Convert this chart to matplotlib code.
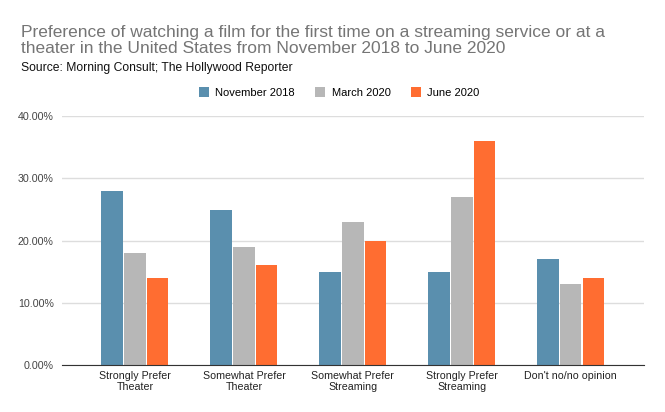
import numpy as np
import matplotlib
matplotlib.use('Agg')
import matplotlib.pyplot as plt
from matplotlib.ticker import FuncFormatter
from matplotlib.patches import Patch

plt.rcParams['font.family'] = ['Liberation Sans', 'DejaVu Sans']

categories = ["Strongly Prefer\nTheater", "Somewhat Prefer\nTheater", "Somewhat Prefer\nStreaming",
              "Strongly Prefer\nStreaming", "Don't no/no opinion"]
series_names = ["November 2018", "March 2020", "June 2020"]
nov_2018 = [28, 25, 15, 15, 17]
mar_2020 = [18, 19, 23, 27, 13]
jun_2020 = [14, 16, 20, 36, 14]
colors = ["#5a8fae", "#b7b7b7", "#ff6d31"]

fig = plt.figure(figsize=(6.65, 4.12), dpi=100)
ax = fig.add_axes([0.0932, 0.114, 0.875, 0.604])

x = np.arange(len(categories))
w = 0.195
for i, (vals, c) in enumerate(zip([nov_2018, mar_2020, jun_2020], colors)):
    ax.bar(x + (i - 1) * 0.21, np.array(vals) / 100, width=w, color=c, zorder=3)

ax.set_xlim(-0.67, 4.67)
ax.set_ylim(0, 0.40)
ax.set_yticks([0, 0.1, 0.2, 0.3, 0.4])
ax.yaxis.set_major_formatter(FuncFormatter(lambda v, p: f"{v*100:.2f}%"))
ax.set_xticks(x)
ax.set_xticklabels(categories, fontsize=7.7, color="#222222", linespacing=1.2)
ax.tick_params(axis='y', labelsize=7.7, labelcolor="#444444", length=0, pad=6)
ax.tick_params(axis='x', length=0, pad=4)
ax.grid(axis='y', color="#dddddd", linewidth=1, zorder=0)
for s in ['top', 'right', 'left']:
    ax.spines[s].set_visible(False)
ax.spines['bottom'].set_color("#333333")
ax.spines['bottom'].set_zorder(4)

fig.text(0.031, 0.94, "Preference of watching a film for the first time on a streaming service or at a\n"
         "theater in the United States from November 2018 to June 2020",
         fontsize=12.5, color="#757575", va='top', linespacing=1.13)
fig.text(0.031, 0.835, "Source: Morning Consult; The Hollywood Reporter", fontsize=8.7,
         color="#111111", va='center')

handles = [Patch(facecolor=c, label=n) for c, n in zip(colors, series_names)]
fig.legend(handles=handles, loc='center', bbox_to_anchor=(0.51, 0.775), ncol=3, frameon=False,
           fontsize=8, handlelength=0.9, handleheight=0.9, columnspacing=1.8, handletextpad=0.6)

plt.savefig("out.png", dpi=100)
plt.close()
